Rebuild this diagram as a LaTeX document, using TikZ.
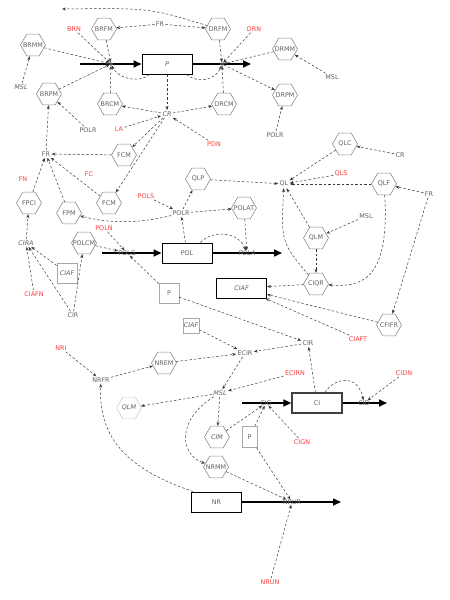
\documentclass[tikz,border=0pt]{standalone}
\usepackage{fontspec}
\setmainfont{DejaVu Sans}
\usetikzlibrary{arrows.meta,shapes.geometric}
\definecolor{txt}{HTML}{606060}
\definecolor{rtxt}{HTML}{FF3B3B}
\definecolor{hexc}{HTML}{8A8A8A}
\definecolor{lnc}{HTML}{3A3A3A}
\definecolor{shc}{HTML}{A8A8A8}
\tikzset{
 lbl/.style={font=\fontsize{6.4}{7.5}\selectfont, text=txt, inner sep=1.2pt},
 rl/.style={lbl, text=rtxt},
 hexa/.style={draw=hexc, line width=0.6pt, regular polygon, regular polygon sides=6, minimum size=25pt, inner sep=0pt, label={[lbl,inner sep=0pt]center:#1}},
 stock/.style={draw=black, line width=1pt, minimum width=50pt, minimum height=20pt, inner sep=0pt, font=\fontsize{6.4}{7.5}\selectfont, text=txt},
 shbox/.style={draw=shc, line width=0.6pt, minimum width=20pt, minimum height=20pt, inner sep=0pt, font=\fontsize{6.4}{7.5}\selectfont, text=txt},
 conn/.style={draw=lnc, line width=0.5pt, dash pattern=on 2.5pt off 2pt, -{Stealth[length=4pt,width=3pt]}},
 pipe/.style={draw=black, line width=1.6pt, -{Triangle[length=8pt,width=7pt]}},
 valve/.style={lbl, inner sep=0pt},
 vdot/.style={draw=hexc, circle, minimum size=3pt, inner sep=0pt},
}
\begin{document}
\begin{tikzpicture}[x=1pt,y=1pt]
\path[use as bounding box] (0,0) rectangle (450,-600);

% stocks
\node[stock] (P) at (167,-64) {\itshape P};
\node[stock] (POL) at (187,-253) {POL};
\node[stock] (CIAF) at (241.5,-288) {\itshape CIAF};
\node[stock, draw=black!75, line width=1.3pt] (CI) at (317,-403) {CI};
\node[stock] (NR) at (216.5,-502) {NR};

% shadow boxes
\node[shbox] (cs1) at (67,-273) {\itshape CIAF};
\node[shbox] (ps1) at (169,-293.5) {P};
\node[shbox, minimum width=16pt, minimum height=15pt] (cs2) at (191,-325.5) {\itshape CIAF};
\node[shbox, minimum width=15pt, minimum height=21pt] (ps2) at (249.5,-437) {P};

% hexagons
\node[hexa=BRMM] (brmm) at (33,-45) {};
\node[hexa=BRFM] (brfm) at (104,-29) {};
\node[hexa=DRFM] (drfm) at (218,-29) {};
\node[hexa=DRMM] (drmm) at (285,-49) {};
\node[hexa=BRPM] (brpm) at (49,-94) {};
\node[hexa=BRCM] (brcm) at (110,-104) {};
\node[hexa=DRCM] (drcm) at (224,-104) {};
\node[hexa=DRPM] (drpm) at (285,-95) {};
\node[hexa=FCM] (fcm1) at (124,-155) {};
\node[hexa=FCM] (fcm2) at (109,-203) {};
\node[hexa=FPCI] (fpci) at (29,-203) {};
\node[hexa=FPM] (fpm) at (69,-213) {};
\node[hexa=QLP] (qlp) at (198,-179) {};
\node[hexa=POLAT] (polat) at (244,-208) {};
\node[hexa=POLCM] (polcm) at (84,-243) {};
\node[hexa=QLC] (qlc) at (345,-144) {};
\node[hexa=QLF] (qlf) at (384,-184) {};
\node[hexa=QLM] (qlm) at (316,-238) {};
\node[hexa=CIQR] (ciqr) at (316,-284) {};
\node[hexa=CFIFR] (cfifr) at (389,-325) {};
\node[hexa=NREM] (nrem) at (164,-363) {};
\node[hexa={\itshape QLM}, draw=shc!60] (qlm2) at (129,-408) {};
\node[hexa={\itshape CIM}] (cim) at (217,-437) {};
\node[hexa=NRMM] (nrmm) at (216,-467) {};

% variables
\node[lbl] (fr1) at (160,-24) {FR};
\node[rl] (brn) at (74,-29) {BRN};
\node[rl] (drn) at (254,-29) {DRN};
\node[lbl] (msl1) at (21,-87) {\itshape MSL};
\node[lbl] (msl2) at (332,-77) {MSL};
\node[lbl] (cr1) at (167,-114) {\itshape CR};
\node[rl] (la) at (119,-129) {LA};
\node[lbl] (polr1) at (88,-130) {POLR};
\node[lbl] (polr2) at (275,-135) {POLR};
\node[rl] (pdn) at (214,-144) {PDN};
\node[lbl] (fr2) at (46,-154) {FR};
\node[rl] (fn) at (23,-179) {FN};
\node[rl] (fc) at (89,-174) {FC};
\node[lbl] (cr2) at (400,-155) {CR};
\node[lbl] (ql) at (284,-184) {QL};
\node[rl] (qls) at (341,-174) {QLS};
\node[lbl] (fr3) at (429,-194) {FR};
\node[rl] (pols) at (146,-196) {POLS};
\node[lbl] (polr3) at (181,-213) {POLR};
\node[lbl] (msl3) at (366,-216) {MSL};
\node[rl] (poln) at (104,-228) {POLN};
\node[lbl] (cira) at (26,-243) {\itshape CIRA};
\node[rl] (ciafn) at (34,-294) {CIAFN};
\node[lbl] (cir1) at (73,-315) {CIR};
\node[rl] (ciaft) at (358,-339) {CIAFT};
\node[lbl] (cir2) at (308,-343) {CIR};
\node[lbl] (ecir) at (245,-353) {ECIR};
\node[rl] (nri) at (61,-348) {NRI};
\node[lbl] (nrfr) at (101,-380) {NRFR};
\node[rl] (ecirn) at (295,-373) {ECIRN};
\node[rl] (cidn) at (404,-373) {CIDN};
\node[lbl] (msl4) at (220,-393) {\itshape MSL};
\node[rl] (cign) at (302,-442) {CIGN};
\node[rl] (nrun) at (270,-582) {NRUN};

% free ends
\coordinate (tl) at (62,-9);
\coordinate (sBR) at (80,-64);
\coordinate (eDR) at (251,-64);
\coordinate (sPOLG) at (102,-253);
\coordinate (ePOLA) at (282,-253);
\coordinate (sCIG) at (242,-403);
\coordinate (eCID) at (387,-403);
\coordinate (eNRUR) at (341,-502);

% pipes
\draw[pipe] (sBR) -- (P.west);
\draw[pipe] (P.east) -- (eDR);
\draw[pipe] (sPOLG) -- (POL.west);
\draw[pipe] (POL.east) -- (ePOLA);
\draw[pipe] (sCIG) -- (CI.west);
\draw[pipe] (CI.east) -- (eCID);
\draw[pipe] (NR.east) -- (eNRUR);

% valves
\node[vdot] (vBR) at (111,-64) {};
\node[vdot] (vDR) at (222,-64) {};
\node[valve] (vPOLG) at (127,-253) {POLG};
\node[valve] (vPOLA) at (247,-253) {\itshape POLA};
\node[valve] (vCIG) at (266,-403) {CIG};
\node[valve] (vCID) at (364,-403) {CID};
\node[valve] (vNRUR) at (292,-502) {NRUR};

% connectors
\draw[conn] (drfm) .. controls (150,-8) .. (tl);
\draw[conn] (fr1) -- (brfm);
\draw[conn] (fr1) -- (drfm);
\draw[conn] (brn) -- (vBR);
\draw[conn] (brfm) -- (vBR);
\draw[conn] (brmm) -- (vBR);
\draw[conn] (brpm) -- (vBR);
\draw[conn] (brcm) -- (vBR);
\draw[conn] ([xshift=8pt]P.south west) .. controls (138,-84) and (118,-78) .. (vBR);
\draw[conn] ([xshift=-6pt]P.south east) .. controls (198,-84) and (216,-80) .. (vDR);
\draw[conn] (drn) -- (vDR);
\draw[conn] (drfm) -- (vDR);
\draw[conn] (drmm) -- (vDR);
\draw[conn] (vDR) -- (drpm);
\draw[conn] (drcm) -- (vDR);
\draw[conn] (polr2) -- (drpm);
\draw[conn] (msl2) -- (drmm);
\draw[conn] (msl1) -- (brmm);
\draw[conn] (polr1) -- (brpm);
\draw[conn] (fr2) -- (brpm);
\draw[conn] (P) -- (cr1);
\draw[conn] (cr1) -- (brcm);
\draw[conn] (cr1) -- (drcm);
\draw[conn] (la) -- (cr1);
\draw[conn] (pdn) -- (cr1);
\draw[conn] (cr1) -- (fcm1);
\draw[conn] (cr1) -- (fcm2);
\draw[conn] (fcm1) -- (fr2);
\draw[conn] (fcm2) -- (fr2);
\draw[conn] (fpci) -- (fr2);
\draw[conn] (fpm) -- (fr2);
\draw[conn] (cira) -- (fpci);
\draw[conn] (polr3) .. controls (130,-226) and (100,-221) .. (fpm);
\draw[conn] (pols) -- (polr3);
\draw[conn] (polr3) -- (qlp);
\draw[conn] (polr3) -- (polat);
\draw[conn] (qlp) -- (ql);
\draw[conn] (POL) -- (polr3);
\draw[conn] ([xshift=-12pt]POL.north east) .. controls (212,-230) and (238,-231) .. (vPOLA);
\draw[conn] (polat) -- (vPOLA);
\draw[conn] (poln) -- (vPOLG);
\draw[conn] (polcm) -- (vPOLG);
\draw[conn] (ps1) -- (vPOLG);
\draw[conn] (ps1) -- (cir2);
\draw[conn] (cs1) -- (cira);
\draw[conn] (cir1) -- (cira);
\draw[conn] (ciafn) -- (cira);
\draw[conn] (cir1) -- (polcm);
\draw[conn] (ciqr) -- (CIAF);
\draw[conn] (cfifr) -- (CIAF);
\draw[conn] (ciaft) -- (CIAF);
\draw[conn] (qlc) -- (ql);
\draw[conn] (cr2) -- (qlc);
\draw[conn] (qls) -- (ql);
\draw[conn] (qlf) -- (ql);
\draw[conn] (fr3) -- (qlf);
\draw[conn] (fr3) -- (cfifr);
\draw[conn] (qlf) .. controls (390,-282) and (360,-287) .. (ciqr);
\draw[conn] (msl3) -- (qlm);
\draw[conn] (qlm) -- (ql);
\draw[conn] (qlm) -- (ciqr);
\draw[conn] (ciqr) .. controls (281,-242) .. (ql);
\draw[conn] (cs2) -- (ecir);
\draw[conn] (cir2) -- (ecir);
\draw[conn] (nrem) -- (ecir);
\draw[conn] (ecir) -- (msl4);
\draw[conn] (ecirn) -- (msl4);
\draw[conn] (msl4) -- (qlm2);
\draw[conn] (msl4) -- (cim);
\draw[conn] (msl4) .. controls (176,-420) and (180,-455) .. (nrmm);
\draw[conn] (cim) -- (vCIG);
\draw[conn] (ps2) -- (vCIG);
\draw[conn] (cign) -- (vCIG);
\draw[conn] (CI) -- (cir2);
\draw[conn] ([xshift=8pt]CI.north) .. controls (335,-377) and (358,-374) .. (vCID);
\draw[conn] (cidn) -- (vCID);
\draw[conn] (nri) -- (nrfr);
\draw[conn] (nrfr) -- (nrem);
\draw[conn] ([xshift=2pt]NR.north west) .. controls (130,-470) and (98,-440) .. (nrfr);
\draw[conn] (nrmm) -- (vNRUR);
\draw[conn] (ps2) -- (vNRUR);
\draw[conn] (nrun) -- (vNRUR);
\end{tikzpicture}
\end{document}
